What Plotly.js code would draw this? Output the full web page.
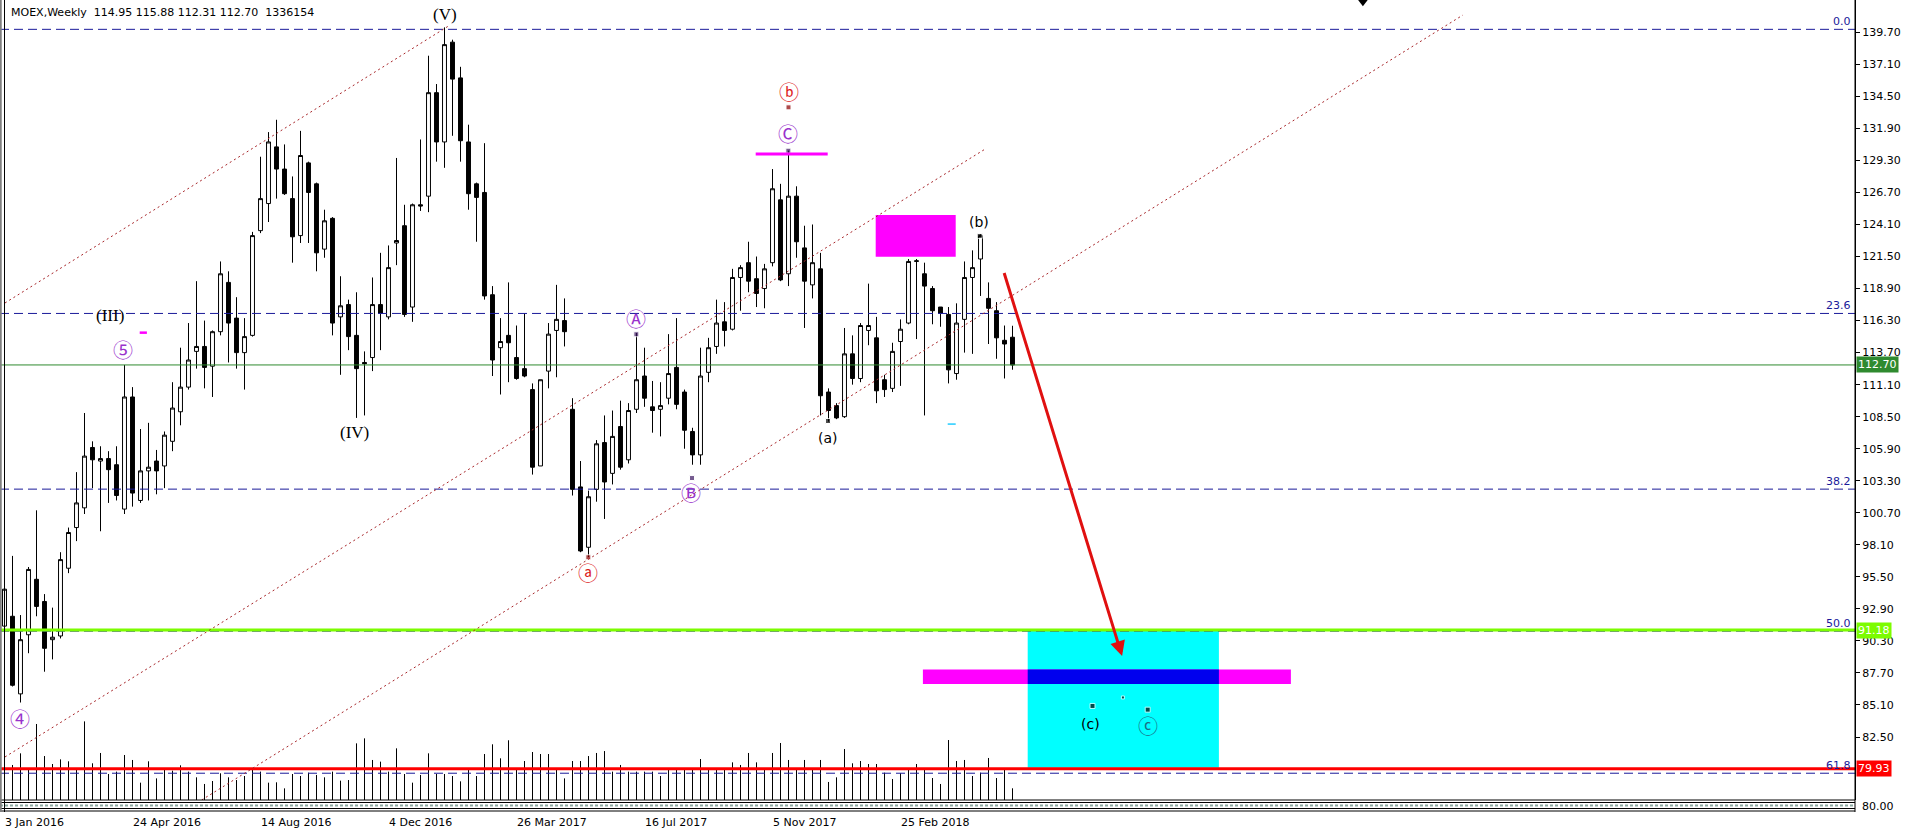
<!DOCTYPE html>
<html><head><meta charset="utf-8">
<script src="https://cdn.plot.ly/plotly-3.0.1.min.js"></script>
<style>html,body{margin:0;padding:0;background:#fff;overflow:hidden}#chart{width:1912px;height:829px}</style>
</head><body><div id="chart"></div>
<script>
// ---------------- DATA ----------------
const opens  = [91.5,92.3,86.0,90.8,95.3,93.5,90.4,90.7,96.2,99.5,101.1,106.0,104.9,105.1,104.6,101.0,110.1,101.7,104.1,104.9,104.5,106.5,108.9,110.9,113.8,114.2,112.6,115.4,119.4,116.5,113.7,115.1,123.6,125.8,130.4,128.6,126.2,123.2,129.1,127.4,122.1,124.6,116.6,117.6,115.1,112.9,113.3,117.6,116.6,122.6,124.0,117.4,125.7,126.4,134.8,130.8,138.9,136.0,130.8,127.4,126.7,118.4,114.1,115.1,113.3,112.4,110.7,104.5,112.2,115.5,116.3,109.1,102.8,97.9,102.6,106.4,103.9,107.7,105.0,109.1,111.8,109.3,109.1,110.0,112.5,110.5,107.3,105.4,112.1,114.2,116.2,115.6,119.8,121.0,119.7,118.9,121.0,126.1,120.1,126.4,122.2,119.2,120.5,110.5,109.4,108.5,113.6,111.6,115.5,114.9,111.5,110.8,114.6,116.1,121.1,120.1,118.9,117.4,116.8,112.0,116.4,119.8,121.3,118.1,117.1,114.7,114.95];
const highs  = [94.6,97.2,92.4,96.3,100.9,94.1,93.0,97.5,99.5,104.0,108.8,106.5,106.1,105.7,106.1,112.7,110.9,107.5,108.0,105.8,107.3,111.3,114.1,116.1,119.5,116.3,115.5,121.1,120.3,118.2,116.5,123.5,129.6,131.6,132.6,130.6,128.0,131.7,129.2,127.5,125.3,124.7,119.9,118.0,118.6,113.8,119.8,121.8,122.4,129.5,125.7,125.8,131.0,137.8,135.5,140.1,139.1,136.9,132.2,127.5,130.7,119.1,116.5,119.4,115.9,116.9,111.2,111.5,116.1,119.2,118.1,110.0,104.9,102.5,106.6,108.6,109.0,109.8,109.6,115.3,114.1,111.4,111.3,115.2,116.5,110.7,107.6,114.1,114.9,118.0,117.8,120.5,120.8,122.7,121.5,120.9,128.6,127.4,130.1,127.2,124.0,124.1,121.8,110.8,109.6,115.7,115.1,116.1,119.3,116.6,111.9,114.5,116.4,121.3,121.3,121.0,119.1,117.4,117.4,117.7,121.1,122.0,123.3,119.4,117.8,115.9,115.88];
const lows   = [91.2,86.6,85.3,89.3,92.3,87.8,88.8,90.5,95.8,98.4,100.6,102.7,99.2,101.5,101.7,100.6,101.2,101.5,101.7,102.2,102.7,105.7,107.8,110.7,112.4,110.8,110.1,115.1,112.9,112.4,110.7,115.0,123.4,124.3,126.2,126.5,121.0,122.6,122.6,120.3,121.4,115.1,111.9,113.9,108.4,108.6,112.2,113.9,116.4,120.8,116.6,116.2,125.2,125.1,129.2,128.7,131.3,129.2,125.3,122.7,118.0,111.8,110.3,111.3,111.5,111.7,103.8,104.5,110.8,111.7,114.2,102.1,97.5,97.1,101.6,100.2,103.0,104.2,104.7,108.8,109.3,107.2,106.9,109.5,109.1,105.9,104.6,104.6,111.3,113.6,114.2,115.5,117.1,118.6,117.4,117.3,120.7,119.5,119.1,121.4,115.7,118.1,108.6,108.1,108.3,108.4,111.1,111.3,114.3,109.6,110.1,110.5,111.0,116.0,114.8,108.6,116.0,115.8,111.2,111.5,113.7,113.6,118.3,114.4,113.2,111.6,112.31];
const closes = [94.5,86.7,90.4,96.1,93.1,89.7,90.6,96.9,99.1,101.5,105.3,105.0,105.1,104.2,102.1,110.1,102.3,104.1,104.4,104.1,107.0,109.2,110.9,113.1,114.2,112.5,115.4,120.1,116.1,113.7,115.0,123.2,126.2,130.8,128.6,126.6,123.1,129.7,126.7,121.8,124.4,116.1,117.5,115.0,112.4,112.8,117.6,116.9,120.6,122.8,116.8,125.7,125.6,134.8,130.8,138.7,135.9,130.9,126.6,126.3,118.3,113.1,114.6,114.5,111.6,111.8,104.4,111.5,115.2,116.4,115.4,102.6,97.6,102.0,106.3,103.2,106.9,104.4,109.0,111.5,110.0,109.0,109.4,112.0,109.5,107.4,105.4,111.8,114.1,116.1,115.5,119.8,120.6,119.5,118.5,120.5,127.0,119.6,126.4,122.7,119.5,121.0,110.2,109.0,108.4,113.6,111.6,115.9,115.9,110.6,110.7,113.8,115.6,121.1,121.15,119.1,117.1,116.9,112.3,116.1,119.8,120.6,123.2,117.3,114.9,114.4,112.70];
const volumes = [2.8,4.0,5.33,3.43,8.68,5.02,4.11,4.64,4.42,3.43,8.98,4.19,5.37,2.97,3.24,5.14,4.57,1.98,4.42,2.47,3.43,3.35,3.96,3.24,2.59,1.83,2.17,3.05,2.59,2.28,2.74,3.43,3.24,1.98,2.02,1.33,2.97,2.74,3.12,2.86,2.59,3.24,2.21,2.28,6.47,7.04,4.57,4.38,3.24,5.90,2.97,1.98,2.86,5.33,2.97,2.97,2.74,2.13,3.50,2.74,5.25,6.36,4.76,6.82,3.5,4.45,5.48,5.25,5.25,3.43,2.47,4.45,4.45,5.02,5.37,5.59,3.24,4.0,3.24,3.24,3.24,3.24,2.74,3.43,3.43,3.43,3.43,4.68,3.43,3.43,3.43,4.30,4.0,5.37,4.30,3.43,5.37,6.51,4.57,3.43,4.57,3.43,4.57,2.06,2.59,5.82,4.19,4.45,4.11,4.11,3.12,2.40,3.05,3.43,4.11,3.43,2.51,1.83,6.85,4.45,4.57,2.74,3.12,4.80,2.51,3.43,1.336154];
const dateLabels = ["3 Jan 2016","24 Apr 2016","14 Aug 2016","4 Dec 2016","26 Mar 2017","16 Jul 2017","5 Nov 2017","25 Feb 2018"];
const dateBars   = [0,16,32,48,64,80,96,112];
const priceTicks = [139.70,137.10,134.50,131.90,129.30,126.70,124.10,121.50,118.90,116.30,113.70,111.10,108.50,105.90,103.30,100.70,98.10,95.50,92.90,90.30,87.70,85.10,82.50];
const fibNames  = ["0.0","23.6","38.2","50.0","61.8"];
const fibLevels = [139.94,116.88,102.62,91.09,79.56];
const lastPrice = 112.70, supportLevel = 91.18, targetLevel = 79.93;
const titleText = "MOEX,Weekly\u00a0\u00a0114.95 115.88 112.31 112.70\u00a0\u00a01336154";
// channel lines [bar0, price0, bar1, price1]
const channels = [[0.06,117.73,55.7,140.29],[0.06,80.88,122.6,130.23],[24.65,77.39,182.3,141.1]];
// wave labels
const waveText  = ["(III)","⑤","④","(IV)","(V)","Ⓐ","Ⓑ","Ⓒ","ⓐ","ⓑ","(a)","(b)","(c)","ⓒ"];
const waveBar   = [13.2,14.85,1.94,43.8,55.06,78.9,85.86,97.9,72.98,98.06,102.9,121.8,135.8,142.9];
const wavePrice = [116.75,113.94,84.04,107.18,141.14,116.49,102.34,131.50,95.84,134.89,106.75,124.33,83.56,83.43];
const waveKind  = ["roman","purple","purple","roman","roman","purple","purple","purple","red","red","sans","sans","sans","teal"];
// small markers
const markBar   = [78.98,85.94,97.98,98.0,72.98,102.94,121.9,136.0,142.9,139.8];
const markPrice = [115.19,103.52,130.09,133.61,97.09,108.15,123.17,85.02,84.72,85.71];
const markColor = ["#3b1760","#3b1760","#3b1760","#8b0000","#8b0000","#000","#000","#000","#000","#000"];
const markSize  = [5,5,5,5,5,5,5,5,5,3];
// zones [bar0,bar1,priceLow,priceHigh]
const zoneMagentaTop = [108.9,118.9,121.49,124.87];
const zoneCyan       = [127.9,151.8,80.0,91.18];
const zoneMagentaBar = [114.8,160.8,86.80,87.98];
const cLine = [93.9,102.9,129.82];
const arrowFrom = [124.9,120.28], arrowTo = [139.7,89.07];

// ---------------- LAYOUT GEOMETRY ----------------
const plotR = 1855, plotB = 800, pxBar = 8, pxPrice = 12.32;
const xMin = -4.5/pxBar, xMax = xMin + plotR/pxBar;
const yTop = 139.70 + 32.3/pxPrice, yBot = yTop - plotB/pxPrice;
const volTop = plotB*0.1142;
const idx = opens.map((_, i) => i);
const FONT = "DejaVu Sans, Tahoma, sans-serif";

const vx = [], vy = [];
idx.forEach(i => { vx.push(i, i, null); vy.push(0, volumes[i], null); });

const traces = [
  {type:'scatter', mode:'lines', x:vx, y:vy, yaxis:'y2', line:{color:'#000', width:1}, hoverinfo:'skip', showlegend:false},
  {type:'candlestick', x:idx, open:opens, high:highs, low:lows, close:closes,
   increasing:{line:{color:'#000', width:1}, fillcolor:'#fff'},
   decreasing:{line:{color:'#000', width:1}, fillcolor:'#000'},
   whiskerwidth:0, hoverinfo:'skip', showlegend:false},
  {type:'scatter', mode:'markers', x:markBar, y:markPrice, marker:{symbol:'square', size:markSize, color:markColor}, hoverinfo:'skip', showlegend:false}
];

const shapes = [];
const rect = (z, color) => ({type:'rect', xref:'x', yref:'y', x0:z[0], x1:z[1], y0:z[2], y1:z[3], fillcolor:color, line:{width:0}, layer:'below'});
shapes.push(rect(zoneCyan, '#00ffff'));
shapes.push(rect(zoneMagentaBar, '#ff00ff'));
shapes.push(rect([zoneCyan[0], zoneCyan[1], zoneMagentaBar[2], zoneMagentaBar[3]], '#0000ee'));
shapes.push(rect(zoneMagentaTop, '#ff00ff'));
fibLevels.forEach(l => shapes.push({type:'line', xref:'paper', yref:'y', x0:0, x1:1, y0:l, y1:l, line:{color:'#1a1a9a', width:1, dash:'9px,5px'}, layer:'above'}));
shapes.push({type:'line', xref:'paper', yref:'y', x0:0, x1:1, y0:lastPrice, y1:lastPrice, line:{color:'#2f8a2f', width:1}, layer:'above'});
shapes.push({type:'line', xref:'paper', yref:'y', x0:0, x1:1, y0:supportLevel, y1:supportLevel, line:{color:'#7cfc00', width:3}, layer:'above'});
shapes.push({type:'line', xref:'paper', yref:'y', x0:0, x1:1, y0:targetLevel, y1:targetLevel, line:{color:'#ff0000', width:3}, layer:'above'});
channels.forEach(c => shapes.push({type:'line', xref:'x', yref:'y', x0:c[0], y0:c[1], x1:c[2], y1:c[3], line:{color:'#a8262a', width:1, dash:'2px,3px'}, layer:'above'}));
shapes.push({type:'line', xref:'x', yref:'y', x0:cLine[0], x1:cLine[1], y0:cLine[2], y1:cLine[2], line:{color:'#ff00ff', width:3}, layer:'above'});
shapes.push({type:'line', xref:'x', yref:'y', x0:16.9, x1:17.8, y0:115.32, y1:115.32, line:{color:'#ff00ff', width:2.5}, layer:'above'});
shapes.push({type:'line', xref:'x', yref:'y', x0:117.9, x1:118.9, y0:107.9, y1:107.9, line:{color:'#22ccff', width:1.5}, layer:'above'});
shapes.push({type:'path', xref:'x', yref:'y', path:`M 169.2,${yTop} L 170.4,${yTop} L 169.8,${yTop-0.5} Z`, fillcolor:'#000', line:{width:0}, layer:'above'});
// frame & bottom sub-window
const py = p => (plotB - p)/plotB;
shapes.push({type:'line', xref:'paper', yref:'paper', x0:0, x1:1, y0:0, y1:0, line:{color:'#000', width:1}});
shapes.push({type:'line', xref:'paper', yref:'paper', x0:0, x1:1, y0:py(802.5), y1:py(802.5), line:{color:'#000', width:1}});
shapes.push({type:'line', xref:'paper', yref:'paper', x0:0, x1:1, y0:py(805.5), y1:py(805.5), line:{color:'#8aa8a0', width:2, dash:'3px,2px'}});
shapes.push({type:'line', xref:'paper', yref:'paper', x0:0, x1:1, y0:py(808.5), y1:py(808.5), line:{color:'#000', width:1}});
shapes.push({type:'line', xref:'paper', yref:'paper', x0:0, x1:1, y0:py(811), y1:py(811), line:{color:'#000', width:1}});
shapes.push({type:'line', xref:'paper', yref:'paper', x0:1, x1:1, y0:py(0), y1:py(812), line:{color:'#000', width:1}});
shapes.push({type:'line', xref:'paper', yref:'paper', x0:0.0004, x1:0.0004, y0:py(0), y1:py(812), line:{color:'#808080', width:2}});
shapes.push({type:'line', xref:'x', yref:'paper', x0:0, x1:0, y0:1, y1:py(812), line:{color:'#000', width:1}});

const ann = [];
ann.push({xref:'paper', yref:'paper', x:0, y:1, xanchor:'left', yanchor:'middle', xshift:9, yshift:-12, text:titleText, showarrow:false, font:{family:FONT, size:11, color:'#000'}});
dateLabels.forEach((t, k) => ann.push({xref:'x', yref:'paper', x:dateBars[k], y:py(822), xanchor:'left', yanchor:'middle', xshift:-2, text:t, showarrow:false, font:{family:FONT, size:11, color:'#000'}}));
fibNames.forEach((t, k) => ann.push({xref:'paper', yref:'y', x:1, y:fibLevels[k], xanchor:'right', yanchor:'bottom', xshift:-2, yshift:-1, text:t, showarrow:false, font:{family:FONT, size:11, color:'#1a1a9a'}}));
const priceBox = (v, bg) => ({xref:'paper', yref:'y', x:1, y:v, xanchor:'left', yanchor:'middle', xshift:1, text:v.toFixed(2), showarrow:false, bgcolor:bg, borderpad:1, font:{family:FONT, size:11, color:'#fff'}});
ann.push(priceBox(lastPrice, '#2f8a2f'));
ann.push(priceBox(supportLevel, '#7cfc00'));
ann.push(priceBox(targetLevel, '#ff0000'));
ann.push({xref:'paper', yref:'paper', x:1, y:py(806), xanchor:'left', yanchor:'middle', xshift:5, text:'80.00', showarrow:false, font:{family:FONT, size:11, color:'#000'}});
const CIRC = "Noto Sans CJK SC, DejaVu Sans, sans-serif";
const waveFont = {roman:{family:'Liberation Serif, serif', size:17, color:'#000'}, purple:{family:CIRC, size:20, color:'#9932cc'}, red:{family:CIRC, size:20, color:'#dd1f1f'}, sans:{family:FONT, size:14, color:'#000'}, teal:{family:CIRC, size:20, color:'#1c6f86'}};
waveText.forEach((t, k) => ann.push({xref:'x', yref:'y', x:waveBar[k], y:wavePrice[k], text:t, showarrow:false, font:waveFont[waveKind[k]]}));
ann.push({xref:'x', yref:'y', axref:'x', ayref:'y', x:arrowTo[0], y:arrowTo[1], ax:arrowFrom[0], ay:arrowFrom[1], text:'', showarrow:true, arrowhead:2, arrowsize:1, arrowwidth:3, arrowcolor:'#e01010'});

const layout = {
  width:1912, height:829, margin:{l:0, r:1912-plotR, t:0, b:829-plotB},
  paper_bgcolor:'#fff', plot_bgcolor:'#fff', showlegend:false, dragmode:false,
  xaxis:{range:[xMin, xMax], showgrid:false, zeroline:false, showticklabels:false, ticks:'', showline:false, rangeslider:{visible:false}, fixedrange:true},
  yaxis:{range:[yBot, yTop], side:'right', tickvals:priceTicks, ticktext:priceTicks.map(v => v.toFixed(2)), ticks:'outside', ticklen:4, tickcolor:'#000', showgrid:false, zeroline:false, showline:true, linecolor:'#000', linewidth:1, tickfont:{family:FONT, size:11, color:'#000'}, fixedrange:true},
  yaxis2:{overlaying:'y', range:[0, volTop], visible:false, fixedrange:true},
  shapes:shapes, annotations:ann
};
Plotly.newPlot('chart', traces, layout, {staticPlot:true, displayModeBar:false});
</script></body></html>
